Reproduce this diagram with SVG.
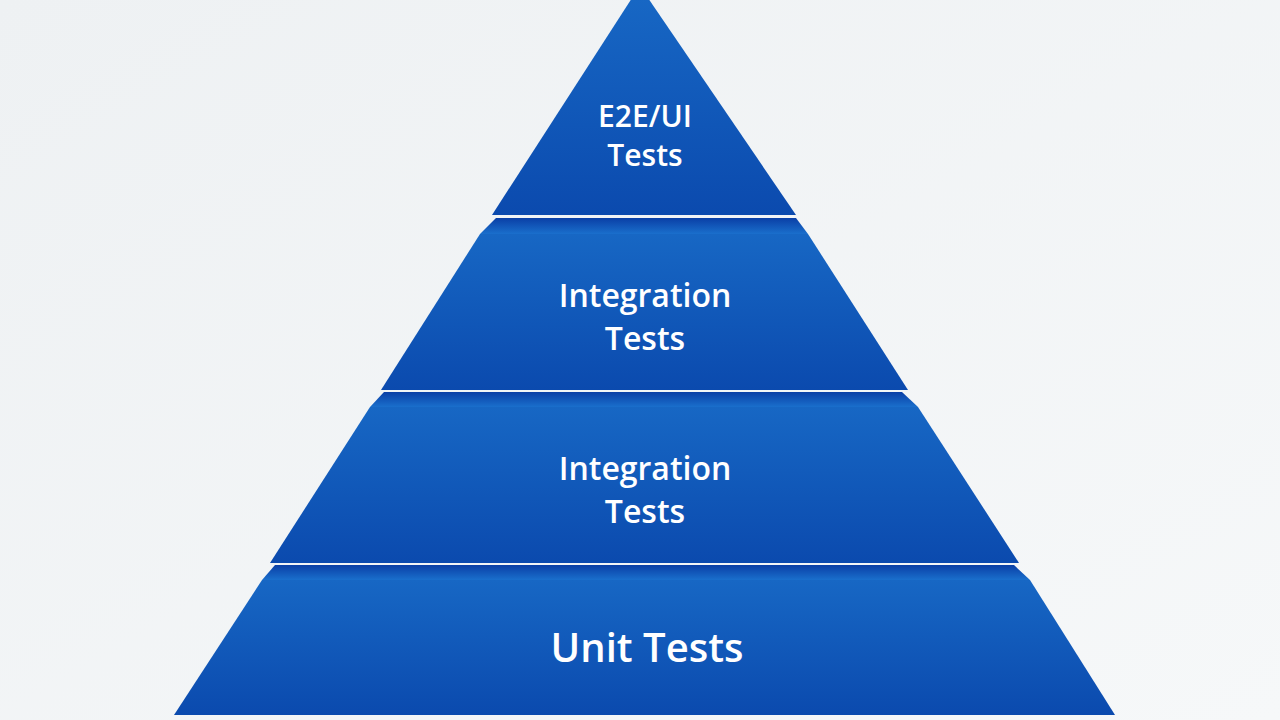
<svg xmlns="http://www.w3.org/2000/svg" width="1280" height="720" viewBox="0 0 1280 720">
<defs>
<linearGradient id="bg" x1="0" y1="0" x2="1" y2="1"><stop offset="0" stop-color="#eef1f3"/><stop offset="1" stop-color="#f6f8f9"/></linearGradient>
<linearGradient id="face" x1="0" y1="0" x2="0" y2="1"><stop offset="0" stop-color="#1767c4"/><stop offset="1" stop-color="#0b4aae"/></linearGradient>
<linearGradient id="bevel" x1="0" y1="0" x2="0" y2="1"><stop offset="0" stop-color="#0a3fa6"/><stop offset="1" stop-color="#1a6fcc"/></linearGradient>
<style>.t{font-family:"Open Sans","Liberation Sans",sans-serif;fill:#fff;text-anchor:middle;font-weight:600}</style>
</defs>
<rect width="1280" height="720" fill="url(#bg)"/>
<g id="tier1"><polygon points="632,-2 648,-2 796,215 492,215" fill="url(#face)"/>
<text class="t" x="645" y="127" font-size="30">E2E/UI</text><text class="t" x="645" y="166" font-size="30">Tests</text></g>
<g id="tier2"><polygon points="496,218 796,218 808,234 480,234" fill="url(#bevel)"/><polygon points="480,234 808,234 908,390 381,390" fill="url(#face)"/>
<text class="t" x="645" y="307" font-size="32">Integration</text><text class="t" x="645" y="350" font-size="32">Tests</text></g>
<g id="tier3"><polygon points="384,392 902,392 918,407 370,407" fill="url(#bevel)"/><polygon points="370,407 918,407 1019,563 270,563" fill="url(#face)"/>
<text class="t" x="645" y="480" font-size="32">Integration</text><text class="t" x="645" y="523" font-size="32">Tests</text></g>
<g id="tier4"><polygon points="275,565 1014,565 1030,580 262,580" fill="url(#bevel)"/><polygon points="262,580 1030,580 1115,715 174,715" fill="url(#face)"/>
<text class="t" x="647" y="662" font-size="40">Unit Tests</text></g>
<g id="connectors"/>
</svg>
